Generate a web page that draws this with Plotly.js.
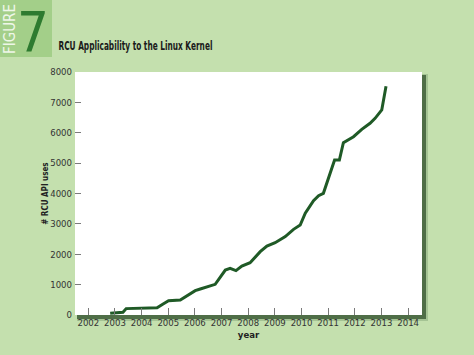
<!DOCTYPE html>
<html>
<head>
<meta charset="utf-8">
<script src="https://cdn.plot.ly/plotly-3.0.1.min.js"></script>
<style>html,body{margin:0;padding:0;background:#c4e0ae;}#chart{width:474px;height:355px;}</style>
</head>
<body>
<div id="chart"></div>
<script>
// Data
var years = [2002.82, 2003.30, 2003.42, 2004.58, 2004.76, 2005.01, 2005.45, 2005.70, 2006.01, 2006.20, 2006.57, 2006.76, 2007.14, 2007.32, 2007.54, 2007.76, 2008.07, 2008.45, 2008.70, 2009.01, 2009.39, 2009.70, 2009.95, 2010.14, 2010.45, 2010.64, 2010.82, 2011.01, 2011.24, 2011.42, 2011.57, 2011.95, 2012.26, 2012.57, 2012.76, 2013.01, 2013.17];
var uses = [55, 90, 210, 240, 340, 470, 495, 635, 800, 855, 955, 1010, 1480, 1535, 1460, 1610, 1720, 2085, 2270, 2380, 2580, 2820, 2960, 3350, 3765, 3930, 4005, 4500, 5100, 5100, 5670, 5870, 6110, 6310, 6475, 6750, 7530];
var xTicks = [2002, 2003, 2004, 2005, 2006, 2007, 2008, 2009, 2010, 2011, 2012, 2013, 2014];
var yTicks = [0, 1000, 2000, 3000, 4000, 5000, 6000, 7000, 8000];

var W = 474, H = 355, L = 75, R = 52, T = 72, B = 40;
var pw = W - L - R, ph = H - T - B;
function px(x) { return (x - L) / pw; }
function py(y) { return (H - B - y) / ph; }

var narrow = "'Liberation Sans Narrow', 'DejaVu Sans Condensed', 'Arial Narrow', sans-serif";

var trace = {
  x: years, y: uses, type: 'scatter', mode: 'lines',
  line: {color: '#1f5a26', width: 3}, hoverinfo: 'skip'
};

var shapes = [
  // badge
  {type: 'rect', xref: 'paper', yref: 'paper', x0: px(0), x1: px(52), y0: py(57), y1: py(0), fillcolor: '#a3cf89', line: {width: 0}, layer: 'below'},
  // plot shadow (soft)
  {type: 'rect', xref: 'paper', yref: 'paper', x0: px(L + 2), x1: px(W - R + 6), y0: py(H - B + 6), y1: py(T + 2), fillcolor: '#6d8f64', opacity: 0.35, line: {width: 0}, layer: 'below'},
  {type: 'rect', xref: 'paper', yref: 'paper', x0: px(L + 2), x1: px(W - R + 4), y0: py(H - B + 4), y1: py(T + 3), fillcolor: '#3f5f3a', opacity: 0.85, line: {width: 0}, layer: 'below'},
  // white plot area
  {type: 'rect', xref: 'paper', yref: 'paper', x0: 0, x1: 1, y0: 0, y1: 1, fillcolor: '#ffffff', line: {width: 0}, layer: 'below'}
];

var annotations = [
  {xref: 'paper', yref: 'paper', x: px(135), y: py(46), xanchor: 'center', yanchor: 'middle', showarrow: false,
   text: 'RCU Applicability to the Linux Kernel', font: {family: narrow, size: 12, weight: 700, color: '#1a1a1a'}},
  {xref: 'paper', yref: 'paper', x: px(10), y: py(29), xanchor: 'center', yanchor: 'middle', showarrow: false,
   text: 'FIGURE', textangle: -90, font: {family: "'Liberation Sans Narrow', 'DejaVu Sans Condensed', sans-serif", size: 15, color: '#eef6e8'}},
  {xref: 'paper', yref: 'paper', x: px(33), y: py(31), xanchor: 'center', yanchor: 'middle', showarrow: false,
   text: '7', font: {family: narrow, size: 56, color: '#2e7b30'}}
];

var layout = {
  width: W, height: H,
  margin: {l: L, r: R, t: T, b: B, pad: 0},
  paper_bgcolor: '#c4e0ae',
  plot_bgcolor: 'rgba(0,0,0,0)',
  showlegend: false,
  xaxis: {
    range: [2001.5, 2014.52], tickvals: xTicks, ticktext: xTicks.map(String),
    ticks: 'inside', ticklen: 7, tickwidth: 1, tickcolor: '#7a7a7a',
    showgrid: false, zeroline: false, showline: false,
    tickfont: {family: narrow, size: 9.5, color: '#333333'},
    title: {text: 'year', font: {family: narrow, size: 9.5, weight: 700, color: '#222222'}, standoff: 4}
  },
  yaxis: {
    range: [0, 8000], tickvals: yTicks, ticktext: yTicks.map(String),
    ticks: 'inside', ticklen: 6, tickwidth: 1, tickcolor: '#7a7a7a',
    showgrid: false, zeroline: false, showline: false,
    tickfont: {family: narrow, size: 9.5, color: '#333333'},
    ticklabelstandoff: 2,
    title: {text: '# RCU API uses', font: {family: narrow, size: 8, weight: 700, color: '#222222'}, standoff: 0}
  },
  shapes: shapes,
  annotations: annotations
};

Plotly.newPlot('chart', [trace], layout, {staticPlot: true, displayModeBar: false}).then(function (gd) {
  // condense the title to the reference's narrow width
  var t = gd.querySelector('.annotation[data-index="0"] text.annotation-text');
  if (t) {
    t.setAttribute('textLength', '154');
    t.setAttribute('lengthAdjust', 'spacingAndGlyphs');
  }
});
</script>
</body>
</html>
